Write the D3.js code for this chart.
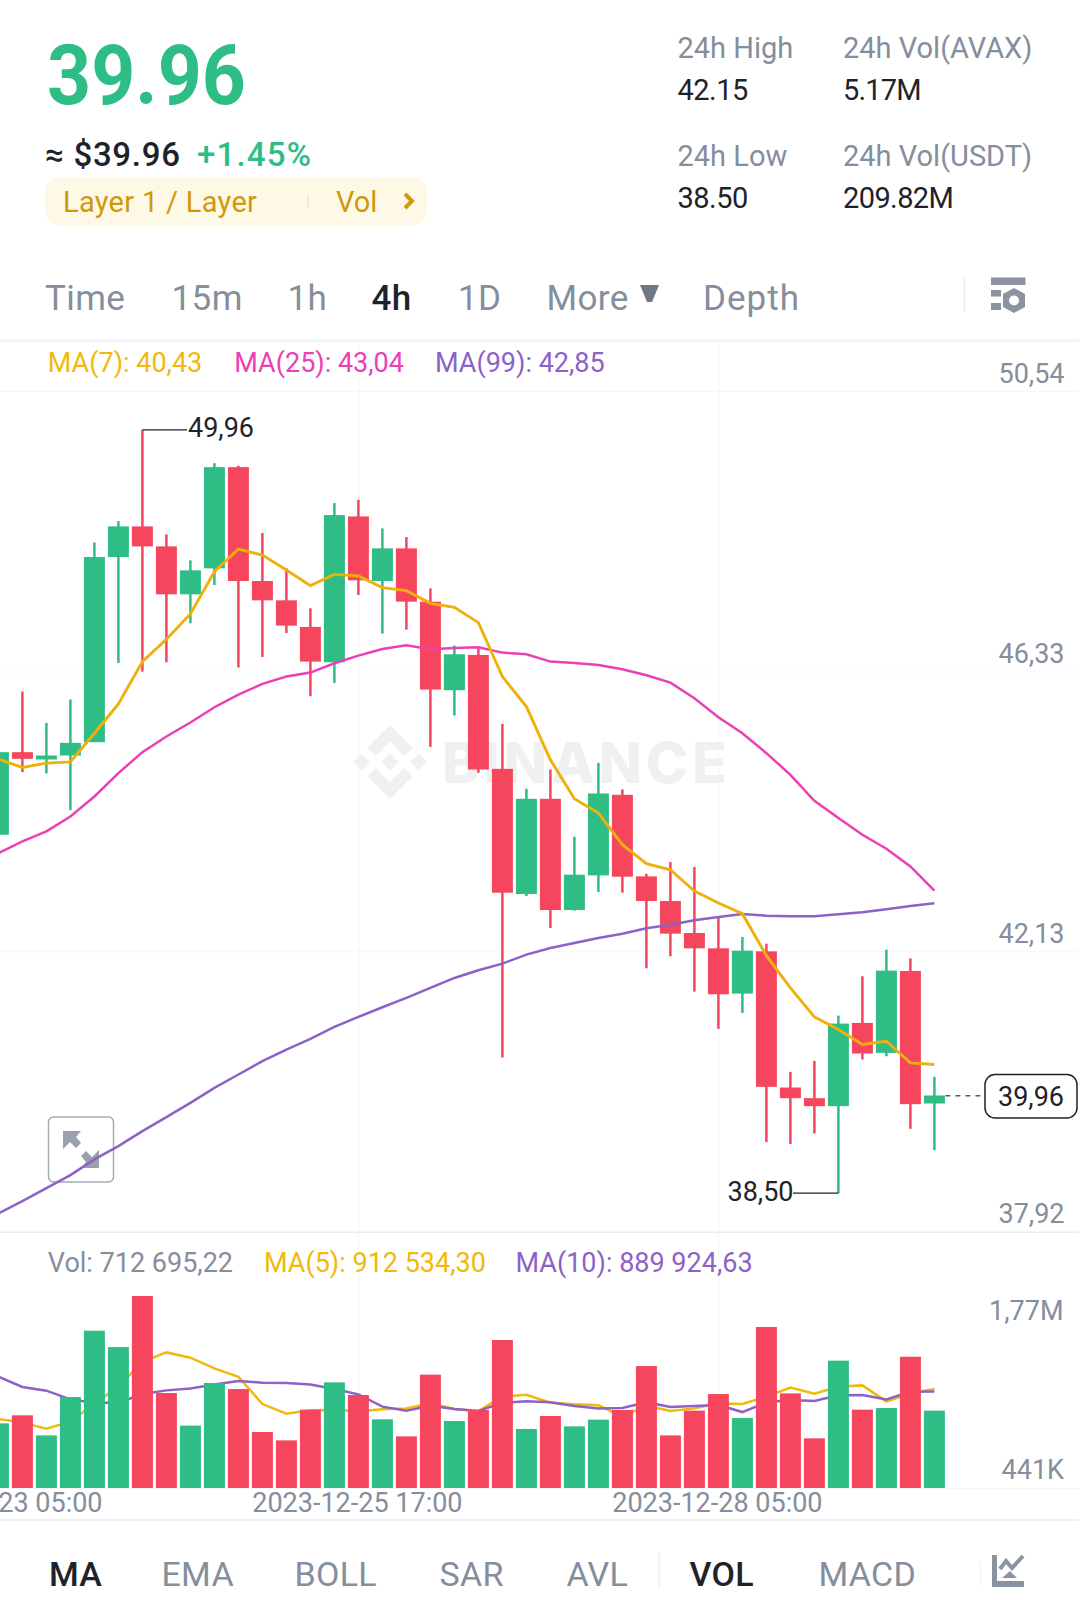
<!DOCTYPE html>
<html><head><meta charset="utf-8">
<script src="https://d3js.org/d3.v7.min.js"></script>
<style>html,body{margin:0;padding:0;background:#fff}svg{display:block}text{font-family:Roboto,sans-serif}</style>
</head><body><svg id="c" width="1079" height="1614"></svg>
<script>
const open_=[43.88,45.12,45.01,45.07,45.27,48.05,48.51,48.21,47.49,47.88,49.40,47.69,47.40,47.00,46.47,48.66,47.69,48.18,47.38,46.05,46.58,44.87,42.99,44.42,42.75,43.27,44.48,43.255,42.885,42.405,42.175,41.495,42.13,40.085,39.925,39.805,41.055,40.605,41.835,39.845];
const close_=[45.12,45.02,45.07,45.26,48.05,48.51,48.21,47.49,47.85,49.40,47.69,47.40,47.02,46.48,48.68,47.70,48.18,47.38,46.06,46.59,44.86,43.01,44.42,42.75,43.28,44.50,43.25,42.885,42.395,42.175,41.485,42.14,40.095,39.925,39.805,41.045,40.595,41.84,39.835,39.965];
const high_=[45.12,46.03,45.56,45.91,48.27,48.59,49.96,48.39,48.00,49.46,49.42,48.41,47.88,47.28,48.86,48.91,48.48,48.35,47.58,46.72,46.68,45.545,44.57,44.86,43.85,44.96,44.56,43.295,43.47,43.395,42.63,42.345,42.245,40.32,40.485,41.165,41.755,42.155,42.025,40.245];
const low_=[43.88,44.82,44.80,44.25,45.27,46.46,46.33,46.47,47.055,47.63,46.39,46.55,46.91,45.96,46.16,47.48,46.90,46.96,45.20,45.67,44.81,40.535,42.96,42.48,42.74,43.02,43.01,41.875,42.055,41.525,40.965,41.205,39.265,39.235,39.395,38.50,40.505,40.555,39.465,39.145];
const ma7=[45.015,44.89,44.955,44.975,45.405,45.845,46.48,46.815,47.195,47.83,48.17,48.08,47.855,47.62,47.79,47.765,47.59,47.545,47.355,47.295,47.065,46.255,45.805,45.005,44.42,44.205,43.73,43.445,43.355,43.035,42.855,42.695,42.065,41.58,41.145,40.955,40.73,40.78,40.455,40.43];
const ma25=[43.605,43.78,43.93,44.155,44.455,44.805,45.12,45.355,45.565,45.795,45.985,46.145,46.255,46.315,46.455,46.57,46.67,46.725,46.665,46.685,46.695,46.615,46.59,46.48,46.46,46.43,46.365,46.275,46.165,45.93,45.645,45.405,45.105,44.78,44.39,44.13,43.88,43.67,43.405,43.04];
const ma99=[38.195,38.38,38.575,38.77,39.005,39.205,39.43,39.64,39.855,40.08,40.28,40.48,40.655,40.815,40.995,41.145,41.29,41.43,41.58,41.73,41.845,41.945,42.08,42.18,42.255,42.33,42.395,42.475,42.53,42.595,42.645,42.69,42.665,42.655,42.655,42.685,42.715,42.76,42.81,42.85];
const vol=[596,670,485,839,1450,1299,1770,876,575,968,912,516,439,722,974,857,633,476,1045,618,719,1364,544,664,568,630,719,1124,485,713,866,645,1484,872,458,1174,722,737,1210,713];
const volMa5=[636,605,547,611,780,934,1164,1250,1201,1103,1026,774,685,716,719,707,725,734,780,728,710,842,860,786,771,762,657,759,710,734,780,774,842,925,869,934,946,796,872,912.5];
const volMa10=[1026,931,897,817,786,786,866,900,918,955,986,971,968,955,912,863,750,713,759,728,710,786,799,790,756,734,737,790,747,756,765,700,790,811,802,854,857,817,888,890];
const dates=["2023-12-23 05:00","2023-12-25 17:00","2023-12-28 05:00"];
const dateIdx=[0,15,30];
const priceTicks=[50.54,46.33,42.13,37.92];
const tabs=["Time","15m","1h","4h","1D","More","Depth"];
const indicators=["MA","EMA","BOLL","SAR","AVL","VOL","MACD"];

const GREEN="#2ebd85",RED="#f6465d",ORANGE="#f0b90b",PINK="#eb40b5",PURPLE="#8c62c9",GRAY="#848e9c",DARK="#1e2329",LG="#f6f6f7";
const svg=d3.select("#c");
const x=d3.scaleLinear().domain([0,39]).range([-1.6,934.4]);
const y=d3.scaleLinear().domain([37.92,50.54]).range([1231.7,391.2]);
const yv=d3.scaleLinear().domain([0,1770]).range([1488,1296]);
const bw=21;
function T(s,px,py,size,fill,o={}){const t=svg.append("text").attr("x",px).attr("y",py).attr("font-size",size).attr("fill",fill).text(s);
 if(o.w)t.attr("font-weight",o.w); if(o.a)t.attr("text-anchor",o.a); if(o.ls!=null)t.attr("letter-spacing",o.ls); if(o.f)t.style("font-family",o.f); return t;}

/* header */
T("39.96",47,104,84,GREEN,{w:700}).attr("textLength",199).attr("lengthAdjust","spacingAndGlyphs");
T("≈ $39.96",45,166,33,DARK,{w:500,ls:0.7});
T("+1.45%",197,166,33,GREEN,{w:500,ls:1.2});
svg.append("rect").attr("x",45).attr("y",177).attr("width",382).attr("height",48).attr("rx",14).attr("fill","#fef8e6");
T("Layer 1 / Layer",63,212,29,"#d0980b",{ls:0.3});
svg.append("rect").attr("x",307).attr("y",195).attr("width",1.5).attr("height",12).attr("fill","#f0e6c8");
T("Vol",336,212,29,"#d0980b");
svg.append("path").attr("d",d3.line()([[405,194],[412,201],[405,208]])).attr("fill","none").attr("stroke","#d0980b").attr("stroke-width",4);
T("24h High",677.5,58,29,GRAY);T("42.15",677.5,100,29,DARK,{ls:-0.5});
T("24h Vol(AVAX)",843,58,29,GRAY);T("5.17M",843,100,29,DARK,{ls:-0.8});
T("24h Low",677.5,166,29,GRAY);T("38.50",677.5,208,29,DARK,{ls:-0.5});
T("24h Vol(USDT)",843,166,29,GRAY);T("209.82M",843,208,29,DARK,{ls:-0.6});

/* tabs */
const tabX=[45,171.5,287.5,371.5,458,546.5,703];
tabs.forEach((s,i)=>T(s,tabX[i],309.5,35,i==3?DARK:GRAY,{w:i==3?500:400,ls:i==6?1:0.4}));
svg.append("path").attr("d","M640,285L659,285L652,302L647,302Z").attr("fill","#6f7986");
svg.append("rect").attr("x",963.5).attr("y",276).attr("width",2).attr("height",36).attr("fill","#eef0f2");
const ic=svg.append("g").attr("fill","#8a939f");
ic.append("rect").attr("x",991).attr("y",277.5).attr("width",34.5).attr("height",7.5);
ic.append("rect").attr("x",991).attr("y",290).attr("width",10).attr("height",6.5);
ic.append("rect").attr("x",991).attr("y",303).attr("width",10).attr("height",7);
ic.append("path").attr("d","M1014,288L1025,294L1025,307L1014,313L1003,307L1003,294Z");
svg.append("circle").attr("cx",1014).attr("cy",300.5).attr("r",5).attr("fill","#fff");
svg.append("rect").attr("x",0).attr("y",339).attr("width",1079).attr("height",3).attr("fill","#f5f5f5");

/* grid */
const gridY=svg.append("g").attr("transform","translate(1079,0)").call(d3.axisLeft(y).tickValues(priceTicks).tickSize(1079).tickFormat(""));
gridY.select(".domain").remove();gridY.selectAll("line").attr("stroke",LG);
gridY.selectAll(".tick").filter(d=>d==37.92).select("line").attr("stroke","#e9ebee").attr("stroke-width",1.5);
const gridX=svg.append("g").attr("transform","translate(0,1488)").call(d3.axisTop(x).tickValues(dateIdx).tickSize(1146).tickFormat(""));
gridX.select(".domain").remove();gridX.selectAll("line").attr("stroke",LG);
svg.append("line").attr("x1",0).attr("x2",1079).attr("y1",1488.5).attr("y2",1488.5).attr("stroke",LG);

/* watermark */
const wm=svg.append("g").attr("transform","translate(353,725) scale(0.585)").attr("fill","#eff0f1");
["38.73,53.2 63.3,28.63 87.88,53.21 102.18,38.92 63.3,0 24.43,38.87","0,63.3 14.3,49.01 28.59,63.3 14.3,77.6","38.73,73.41 63.3,97.98 87.88,73.41 102.19,87.69 63.3,126.61 24.42,87.74","98.02,63.3 112.31,49.01 126.61,63.3 112.31,77.6","77.8,63.3 63.3,48.8 48.83,63.27 63.3,77.8"].forEach(p=>wm.append("polygon").attr("points",p));
T("BINANCE",442,783,57,"#eff0f1",{w:800,f:"Inter,Roboto,sans-serif",ls:3.7});

/* legends */
T("MA(7): 40,43",47.8,372,27,"#f0b90b");
T("MA(25): 43,04",234.3,372,27,PINK);
T("MA(99): 42,85",435,372,27,PURPLE);
T("Vol: 712 695,22",47.8,1272,27,GRAY);
T("MA(5): 912 534,30",264,1272,27,ORANGE);
T("MA(10): 889 924,63",515.5,1272,27,PURPLE);

/* expand button */
svg.append("rect").attr("x",48.5).attr("y",1117).attr("width",65).attr("height",65).attr("rx",5).attr("fill","#fff").attr("stroke","#a3aab5").attr("stroke-width",1.5);
svg.append("path").attr("d","M63,1131L81,1131L76,1137L81,1143L76,1148L70,1142L63,1149Z M99,1168L81,1168L86,1162L81,1156L86,1151L92,1157L99,1150Z").attr("fill","#9aa1ac");

/* candles */
const I=d3.range(open_.length);
const colr=i=>close_[i]>=open_[i]?GREEN:RED;
svg.append("g").selectAll("rect").data(I).join("rect")
 .attr("x",i=>x(i)-1.25).attr("width",2.5).attr("y",i=>y(high_[i])).attr("height",i=>y(low_[i])-y(high_[i])).attr("fill",colr);
svg.append("g").selectAll("rect").data(I).join("rect")
 .attr("x",i=>x(i)-bw/2).attr("width",bw).attr("y",i=>y(Math.max(open_[i],close_[i]))).attr("height",i=>Math.abs(y(open_[i])-y(close_[i]))).attr("fill",colr);
const ln=d3.line().x((d,i)=>x(i)).y(d=>y(d));
[[ma99,PURPLE,2.5],[ma25,PINK,2.5],[ma7,"#efb00c",2.9]].forEach(([a,c,w])=>svg.append("path").attr("d",ln(a)).attr("fill","none").attr("stroke",c).attr("stroke-width",w));

/* hi/lo callouts */
svg.append("path").attr("d",`M${x(6)},${y(49.96)}H187`).attr("stroke",DARK).attr("stroke-width",1.2).attr("fill","none");
T("49,96",188,436.5,27,DARK);
svg.append("path").attr("d",`M${x(35)},${y(38.5)}H793`).attr("stroke",DARK).attr("stroke-width",1.2).attr("fill","none");
T("38,50",727.5,1200.5,27,DARK);
svg.append("line").attr("x1",x(39)+11).attr("x2",985).attr("y1",y(39.96)).attr("y2",y(39.96)).attr("stroke","#555c66").attr("stroke-width",1.5).attr("stroke-dasharray","5 5");
svg.append("rect").attr("x",985).attr("y",1074.5).attr("width",92).attr("height",43.5).attr("rx",10).attr("fill","#fff").attr("stroke",DARK).attr("stroke-width",1.5);
T("39,96",1031,1106,27,DARK,{a:"middle"});

/* axis labels */
const axP=svg.append("g").attr("transform","translate(1064.5,0)").call(d3.axisLeft(y).tickValues(priceTicks).tickSize(0).tickPadding(0).tickFormat(d=>d3.format(".2f")(d).replace(".",",")));
axP.select(".domain").remove();
axP.selectAll("text").attr("font-size",27).attr("fill",GRAY).attr("dy",-9).style("font-family","Roboto");
T("1,77M",1063.5,1319.5,27,GRAY,{a:"end"});
T("441K",1064,1478.5,27,GRAY,{a:"end"});

/* volume */
const lv=d3.line().x((d,i)=>x(i)).y(d=>yv(d));
svg.append("path").attr("d",lv(volMa5)).attr("fill","none").attr("stroke",ORANGE).attr("stroke-width",2.5);
svg.append("path").attr("d",lv(volMa10)).attr("fill","none").attr("stroke",PURPLE).attr("stroke-width",2.5);
svg.append("g").selectAll("rect").data(I).join("rect").attr("x",i=>x(i)-bw/2).attr("width",bw).attr("y",i=>yv(vol[i])).attr("height",i=>yv(0)-yv(vol[i])).attr("fill",colr);

/* dates */
const axD=svg.append("g").attr("transform","translate(-1.5,1512)").call(d3.axisBottom(x).tickValues(dateIdx).tickSize(0).tickPadding(0).tickFormat((d,i)=>dates[i]));
axD.select(".domain").remove();
axD.selectAll("text").attr("font-size",27).attr("fill",GRAY).attr("y",0).attr("dy",0).style("font-family","Roboto");

svg.append("rect").attr("x",0).attr("y",1519).attr("width",1079).attr("height",2).attr("fill","#eceef2");

/* bottom tabs */
const indX=[49,161.5,294.5,439.5,566.5,689.5,818.5];
indicators.forEach((s,i)=>T(s,indX[i],1585.5,34,(i==0||i==5)?DARK:GRAY,{w:(i==0||i==5)?500:400,ls:0.3}));
svg.append("rect").attr("x",658.5).attr("y",1552).attr("width",1.5).attr("height",36).attr("fill","#eef0f2");
svg.append("rect").attr("x",979.5).attr("y",1561).attr("width",2).attr("height",25).attr("fill","#f6f6f7");
svg.append("path").attr("d","M992,1555H997V1581H1024V1587H992Z M1002,1578L1010,1571L1017,1578Z").attr("fill","#8a939f");
svg.append("path").attr("d","M1000,1569L1006,1561L1012,1568L1023,1556").attr("fill","none").attr("stroke","#8a939f").attr("stroke-width",4);
</script></body></html>
